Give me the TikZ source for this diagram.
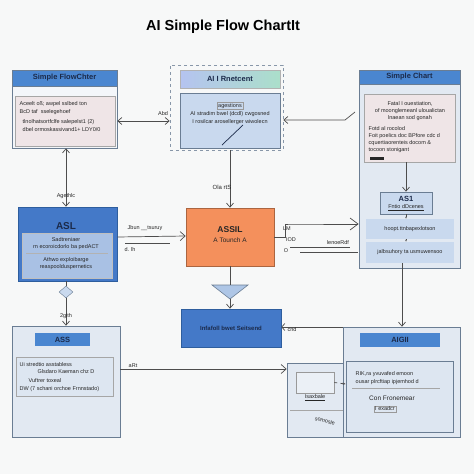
\documentclass[tikz,border=0pt]{standalone}
\usepackage{fontspec}
\setmainfont{Liberation Sans}
\usetikzlibrary{fit,arrows.meta,shapes.geometric}
\definecolor{bg}{HTML}{F7F8F8}
\definecolor{hblue}{HTML}{4A86D0}
\definecolor{sblue}{HTML}{4479C8}
\definecolor{dblue}{HTML}{2E5E9E}
\definecolor{pale}{HTML}{E2E9F2}
\definecolor{pinkish}{HTML}{EFE5E7}
\definecolor{lblue}{HTML}{C9D9EE}
\definecolor{mblue}{HTML}{A9C1E4}
\definecolor{orng}{HTML}{F4905C}
\definecolor{edgec}{HTML}{6A7D93}
\definecolor{linec}{HTML}{4D4D4D}
\definecolor{navy}{HTML}{1B2A4A}
\begin{document}
\begin{tikzpicture}[x=1pt,y=-1pt,
  area/.style={fit={#1}, inner sep=0pt, draw=edgec, line width=0.7pt},
  hdr/.style={font=\fontsize{7.5}{9}\selectfont\bfseries, text=navy, inner sep=1pt},
  tiny/.style={font=\fontsize{5.5}{6.5}\selectfont, text=black!85, inner sep=0.5pt},
  tinyl/.style={tiny, anchor=west},
  conn/.style={draw=linec, line width=0.7pt},
  arr/.style={conn, -{Straight Barb[length=4pt,width=7pt]}},
  darr/.style={conn, {Straight Barb[length=4pt,width=7pt]}-{Straight Barb[length=4pt,width=7pt]}}
]
\useasboundingbox[fill=bg] (0,0) rectangle (474,474);

% title
\node[font=\fontsize{14.5}{17}\selectfont\bfseries, text=black] (title) at (223,27) {AI Simple Flow ChartIt};

% ---------- box 1 (top-left)
\node[area={(12,70) (117,148)}, fill=white!60!pale] (b1) {};
\node[area={(12,70) (117,86)}, fill=hblue] (b1h) {};
\node[hdr] (b1ht) at (b1h.center) {Simple FlowChter};
\node[area={(15,96) (115,146)}, fill=pinkish, draw=black!35] (b1i) {};
\node[tinyl] (b1t1) at (19,104) {Aceelt oß; awpel sslbed ton};
\node[tinyl] (b1t2) at (19,112) {BcD taf \ sselegehoef};
\node[tinyl] (b1t3) at (22,122) {tlnolhatsortfclfe salepelst1 (2)};
\node[tinyl] (b1t4) at (22,130) {dbel ormoskassivand1+ LDY0/0};

% ---------- box 2 (top centre)
\node[area={(170,65) (283,150)}, dashed, draw=edgec!80] (b2) {};
\node[area={(180,70) (280,88)}, left color=lblue!90!blue, right color=green!15!lblue, draw=black!30] (b2h) {};
\node[hdr] (b2ht) at (b2h.center) {AI I Rnetcent};
\node[area={(180,93) (280,148)}, fill=lblue, draw=edgec] (b2i) {};
\node[tiny, draw=black!40, inner sep=1pt] (b2t1) at (230,106) {agestions};
\node[tiny] (b2t2) at (230,114) {AI stradim bwel (dcdl) cwgosned};
\node[tiny] (b2t3) at (230,122) {I rosilcar arosellerger wiwolecn};
\coordinate (d1) at (243,125);
\coordinate (d2) at (222,145);
\draw[conn, draw=navy] (d1) -- (d2);

% ---------- box 3 (right)
\node[area={(359,70) (460,268)}, fill=pale] (b3) {};
\node[area={(359,70) (460,84)}, fill=hblue] (b3h) {};
\node[hdr] (b3ht) at (b3h.center) {Simple Chart};
\node[area={(364,94) (455,162)}, fill=pinkish, draw=black!35] (b3i) {};
\node[tiny] (b3t1) at (410,104) {Fatal I ouestiation,};
\node[tiny] (b3t2) at (410,111) {of moonglemeanl uloualictan};
\node[tiny] (b3t3) at (410,118) {lnaean sod gonah};
\node[tinyl] (b3t4) at (368,129) {Fotd al rocolod};
\node[tinyl] (b3t5) at (368,136) {Foit poelics doc BPfore cdc d};
\node[tinyl] (b3t6) at (368,143) {cquertiaorenteis docom \&};
\node[tinyl] (b3t7) at (368,150) {tocoon stonigant};
\node[fill=black!85, minimum width=14pt, minimum height=3pt, inner sep=0pt] (b3blk) at (377,158) {};
\node[area={(380,192) (432,214)}, fill=lblue, draw=edgec] (b3a) {};
\node[font=\fontsize{7.5}{9}\selectfont\bfseries, text=navy, inner sep=0pt] (b3at) at (406,199) {AS1};
\node[tiny] (b3as) at (406,208) {\underline{Fntio dDcenes}};
\node[area={(366,219) (454,239)}, fill=lblue, draw=none] (b3b) {};
\node[tiny] (b3bt) at (b3b.center) {hoopt.ttnbapexlotson};
\node[area={(366,242) (454,263)}, fill=lblue, draw=none] (b3c) {};
\node[tiny] (b3ct) at (b3c.center) {jalbsuhory ta usmuwensoo};
\draw[arr] (b3i.south -| b3a.north) -- (b3a.north);
\draw[arr, -{Stealth[length=2pt]}] (b3a.south) -- (b3b.north -| b3a.south);
\draw[arr, -{Stealth[length=2pt]}] (b3b.south -| b3a.south) -- (b3c.north -| b3a.south);

% ---------- ASL (left middle)
\node[area={(18,207) (117,281)}, fill=sblue, draw=dblue] (asl) {};
\node[font=\fontsize{10}{12}\selectfont\bfseries, text=navy] (aslt) at (66,226) {ASL};
\node[area={(22,233) (112,278)}, fill=mblue, draw=black!25] (asli) {};
\node[tiny] (aslt1) at (66,240) {Sadtreniaer};
\node[tiny] (aslt2) at (66,247) {rn ecoroicdorlo ba pedACT};
\coordinate (asld1) at (26,253);
\coordinate (asld2) at (108,253);
\draw[draw=black!30, line width=0.5pt] (asld1) -- (asld2);
\node[tiny] (aslt3) at (66,260) {Athwo exploibarge};
\node[tiny] (aslt4) at (66,267) {reaspoolduspernetics};

% ---------- ASSIL (orange centre)
\node[area={(186,208) (274,266)}, fill=orng, draw=orng!70!black] (assil) {};
\node[font=\fontsize{8.5}{10}\selectfont\bfseries, text=black!85] (assilt) at (230,230) {ASSIL};
\node[font=\fontsize{6.5}{8}\selectfont, text=black!85] (assils) at (230,240) {A Tounch A};

% ---------- blue box bottom centre
\node[area={(181,309) (281,347)}, fill=sblue, draw=dblue] (inf) {};
\node[font=\fontsize{6}{7}\selectfont\bfseries, text=navy] (inft) at (inf.center) {Infafoll bwet Seitsend};
\coordinate (tl) at (212,285);
\coordinate (tr) at (248,285);
\coordinate (tb) at (230,299);
\coordinate (tt) at (230,285);
\filldraw[fill=lblue!80!sblue, draw=edgec, line width=0.6pt] (tl) -- (tr) -- (tb) -- cycle;

% ---------- ASS (bottom left)
\node[area={(12,326) (120,437)}, fill=pale] (ass) {};
\node[area={(35,333) (90,346)}, fill=hblue, draw=none] (assh) {};
\node[hdr] (assht) at (assh.center) {ASS};
\node[area={(16,357) (113,396)}, fill=pale!80!lblue, draw=black!35] (assi) {};
\node[tinyl] (asst1) at (19,365) {Ui stredtio asstabless};
\node[tiny] (asst2) at (66,372) {Glsdaro Kaeman chz D};
\node[tinyl] (asst3) at (28,381) {Vuftrer toxeal};
\node[tinyl] (asst4) at (19,389) {DW (7 schani orchoe Frnnstado)};

% ---------- middle bottom box
\node[area={(287,363) (343,437)}, fill=pale] (mid) {};
\node[area={(296,372) (334,393)}, fill=pale!70!white, draw=black!40] (midi) {};
\node[tiny] (midt) at (315,398) {\underline{Isaxbale}};
\coordinate (midd1) at (290,410);
\coordinate (midd2) at (343,410);
\draw[draw=black!35, line width=0.5pt] (midd1) -- (midd2);
\node[tiny, rotate=-15] (mids) at (325,421) {somosle};

% ---------- AIGII (bottom right)
\node[area={(343,327) (460,437)}, fill=pale] (aig) {};
\node[area={(360,333) (440,347)}, fill=hblue, draw=none] (aigh) {};
\node[hdr] (aight) at (aigh.center) {AIGII};
\node[area={(346,361) (453,432)}, fill=pale!80!lblue, draw=edgec] (aigi) {};
\node[tinyl] (aigt1) at (355,374) {RIK,ra yvuvafed emoon};
\node[tinyl] (aigt2) at (355,382) {ousar plrcftiap ipjemhod d};
\coordinate (aigd1) at (352,388);
\coordinate (aigd2) at (440,388);
\draw[draw=black!35, line width=0.5pt] (aigd1) -- (aigd2);
\node[tiny, font=\fontsize{6.5}{7.5}\selectfont] (aigt3) at (392,398) {Con Fronemear};
\node[tiny, draw=black!40, inner sep=1pt] (aigt4) at (385,409) {I exadcr};

% ---------- connectors
\draw[darr] (b1.east |- 0,121) -- (b2.west |- 0,121);
\node[tiny] (lab1) at (163,114) {Abd};
\coordinate (b3in) at (355,112);
\draw[arr] (b3in) -- (345,120) -- (b2.east |- 0,120);
\draw[darr] (b1.south -| 66,0) -- (asl.north -| 66,0);
\node[tiny] (lab2) at (66,196) {Agethlc};
\draw[arr] (b2.south -| 230,0) -- (assil.north -| 230,0);
\node[tiny, font=\fontsize{6}{7}\selectfont] (lab3) at (222,187) {Ola rtS};
\draw[arr, -{Straight Barb[length=5pt,width=9pt]}] (asl.east |- 0,237) -- (assil.west |- 0,236);
\node[tiny] (lab4) at (145,228) {Jbun \_\_tsuruy};
\coordinate (s1) at (125,243);
\coordinate (s2) at (170,243);
\draw[conn, line width=0.5pt] (s1) -- (s2);
\node[tiny] (lab5) at (130,250) {d. lh};
\coordinate (bend) at (290,224);
\draw[arr, -{Straight Barb[length=8pt,width=12pt]}] (assil.east |- 0,237) -- (285,237) |- (bend) -- (b3.west |- 0,224);
\coordinate (s3) at (290,247);
\coordinate (s4) at (350,247);
\draw[conn, line width=0.5pt] (s3) -- (s4);
\coordinate (s5) at (300,252);
\coordinate (s6) at (358,252);
\draw[conn, line width=0.5pt] (s5) -- (s6);
\node[tiny] (lab6) at (287,229) {LM};
\node[tiny] (lab7) at (291,240) {IOD};
\node[tiny] (lab8) at (286,251) {O};
\node[tiny] (lab9) at (338,243) {lenoeRdf};
\draw[conn] (assil.south -| 230,0) -- (tt);
\draw[arr] (tb) -- (inf.north -| 230,0);
\draw[conn] (asl.south -| 66,0) -- (66,286);
\node[diamond, fill=lblue, draw=edgec, minimum width=14pt, minimum height=12pt, inner sep=0pt] (dia) at (66,292) {};
\draw[arr] (dia.south) -- (ass.north -| 66,0);
\node[tiny] (lab10) at (66,316) {2gith};
\draw[arr, -{Straight Barb[length=3pt,width=7pt]}] (aig.west |- 0,327) -- (inf.east |- 0,327);
\node[tiny] (lab11) at (292,330) {cnd};
\draw[arr] (b3c.south -| 402,0) -- (aig.north -| 402,0);
\draw[arr, -{Straight Barb[length=5pt,width=9pt]}] (ass.east |- 0,369) -- (mid.west |- 0,369);
\node[tiny] (lab12) at (133,366) {aRt};
\draw[arr, dashed, -{Stealth[length=3pt]}] (midi.east) -- (aigi.west |- 0,384);
\end{tikzpicture}
\end{document}
